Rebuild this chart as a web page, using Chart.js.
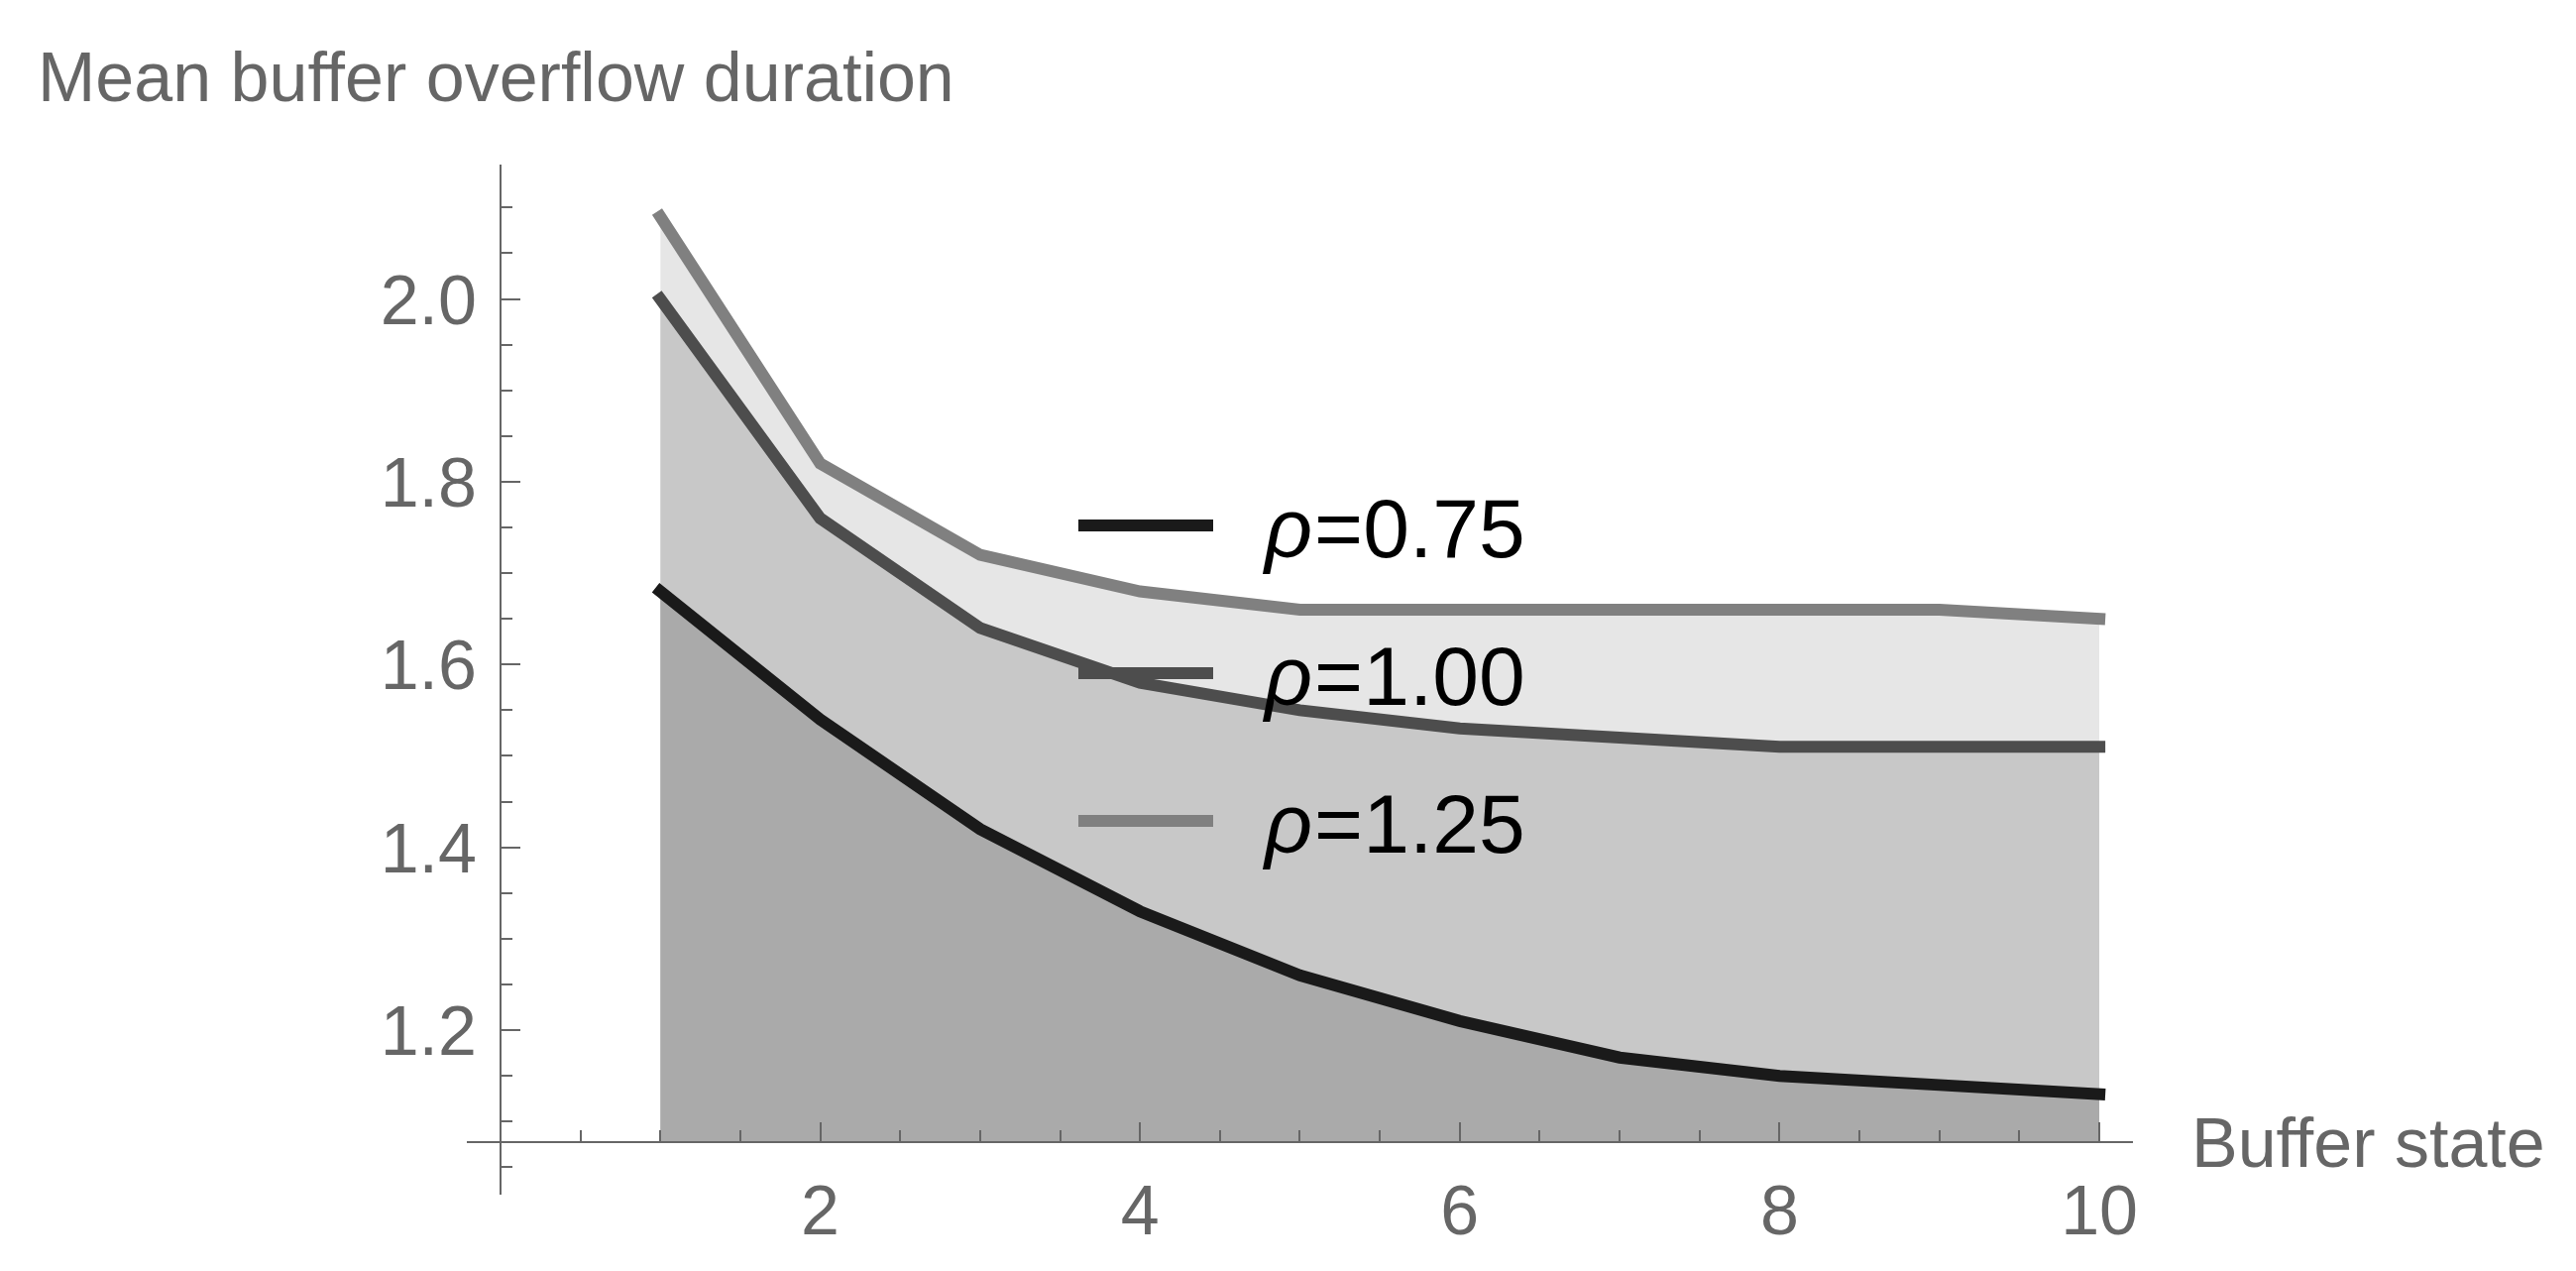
<!DOCTYPE html>
<html>
<head>
<meta charset="utf-8">
<title>Mean buffer overflow duration</title>
<script src="https://cdn.jsdelivr.net/npm/chart.js@4.4.1/dist/chart.umd.min.js"></script>
<style>
  html, body { margin: 0; padding: 0; background: #fff; overflow: hidden; }
  #wrap { width: 2599px; height: 1282px; }
</style>
</head>
<body>
<div id="wrap"><canvas id="chart" width="2599" height="1282"></canvas></div>
<script>
// Data
const bufferStates = [1, 2, 3, 4, 5, 6, 7, 8, 9, 10];
const rho075 = [1.68, 1.54, 1.42, 1.33, 1.26, 1.21, 1.17, 1.15, 1.14, 1.13];
const rho100 = [2.00, 1.76, 1.64, 1.58, 1.55, 1.53, 1.52, 1.51, 1.51, 1.51];
const rho125 = [2.09, 1.82, 1.72, 1.68, 1.66, 1.66, 1.66, 1.66, 1.66, 1.65];
const seriesLabels = ['0.75', '1.00', '1.25'];

// Axis ticks
const xMajorTicks = [2, 4, 6, 8, 10];
const xTickLabels = ['2', '4', '6', '8', '10'];
const xMinorTicks = [0.5, 1, 1.5, 2.5, 3, 3.5, 4.5, 5, 5.5, 6.5, 7, 7.5, 8.5, 9, 9.5];
const yMajorTicks = [1.2, 1.4, 1.6, 1.8, 2.0];
const yTickLabels = ['1.2', '1.4', '1.6', '1.8', '2.0'];
const yMinorTicks = [1.05, 1.1, 1.15, 1.25, 1.3, 1.35, 1.45, 1.5, 1.55, 1.65, 1.7, 1.75, 1.85, 1.9, 1.95, 2.05, 2.1];

const xTitle = 'Buffer state';
const yTitle = 'Mean buffer overflow duration';

// where the axes cross (data units)
const AXIS_X = 0;
const AXIS_Y = 1.077;

const FONT = '"Liberation Sans", Arial, sans-serif';
const LABEL_COLOR = '#666666';
const AXIS_COLOR = '#666666';
const lineColors = ['#1a1a1a', '#4d4d4d', '#808080'];
const fillColors = ['#aaaaaa', '#c8c8c8', '#e6e6e6'];

function makeSeries(values, idx) {
  return {
    label: 'ρ=' + seriesLabels[idx],
    data: values.map((v, i) => ({ x: bufferStates[i], y: v })),
    borderColor: lineColors[idx],
    backgroundColor: fillColors[idx],
    borderWidth: 12,
    borderCapStyle: 'square',
    borderJoinStyle: 'miter',
    pointRadius: 0,
    pointHoverRadius: 0,
    tension: 0,
    fill: { value: AXIS_Y }
  };
}

// Mathematica style axes: crossing at (0, AXIS_Y), ticks pointing inward
const axesPlugin = {
  id: 'crossedAxes',
  afterDatasetsDraw(chart) {
    const { ctx, chartArea } = chart;
    const x = chart.scales.x;
    const y = chart.scales.y;
    const ox = Math.round(x.getPixelForValue(AXIS_X));
    const oy = Math.round(y.getPixelForValue(AXIS_Y));

    ctx.save();
    ctx.strokeStyle = AXIS_COLOR;
    ctx.lineWidth = 2;
    ctx.lineCap = 'butt';
    ctx.beginPath();
    ctx.moveTo(chartArea.left, oy);
    ctx.lineTo(chartArea.right, oy);
    ctx.moveTo(ox, chartArea.top);
    ctx.lineTo(ox, chartArea.bottom);

    xMajorTicks.forEach(v => {
      const px = Math.round(x.getPixelForValue(v));
      ctx.moveTo(px, oy);
      ctx.lineTo(px, oy - 20);
    });
    xMinorTicks.forEach(v => {
      const px = Math.round(x.getPixelForValue(v));
      ctx.moveTo(px, oy);
      ctx.lineTo(px, oy - 12);
    });
    yMajorTicks.forEach(v => {
      const py = Math.round(y.getPixelForValue(v));
      ctx.moveTo(ox, py);
      ctx.lineTo(ox + 20, py);
    });
    yMinorTicks.forEach(v => {
      const py = Math.round(y.getPixelForValue(v));
      ctx.moveTo(ox, py);
      ctx.lineTo(ox + 12, py);
    });
    ctx.stroke();

    // tick labels
    ctx.fillStyle = LABEL_COLOR;
    ctx.font = '70px ' + FONT;
    ctx.textBaseline = 'alphabetic';
    ctx.textAlign = 'center';
    xMajorTicks.forEach((v, i) => {
      ctx.fillText(xTickLabels[i], x.getPixelForValue(v), oy + 93);
    });
    ctx.textAlign = 'right';
    yMajorTicks.forEach((v, i) => {
      ctx.fillText(yTickLabels[i], ox - 24, y.getPixelForValue(v) + 25);
    });

    // axis titles
    ctx.textAlign = 'left';
    ctx.fillText(xTitle, chartArea.right + 59, oy + 25);
    ctx.fillText(yTitle, 38, chartArea.top - 64);
    ctx.restore();
  }
};

// legend drawn inside the plot
const legendPlugin = {
  id: 'innerLegend',
  afterDraw(chart) {
    const { ctx } = chart;
    const left = 1088;
    const swatchLen = 136;
    const top = 530;
    const gap = 149;
    ctx.save();
    chart.data.datasets.forEach((ds, i) => {
      const cy = top + i * gap;
      ctx.fillStyle = ds.borderColor;
      ctx.fillRect(left, cy - 6, swatchLen, 12);

      const tx = left + 188;
      const base = cy + 32;
      ctx.fillStyle = '#000';
      ctx.textAlign = 'left';
      ctx.textBaseline = 'alphabetic';
      ctx.font = 'italic 84px ' + FONT;
      ctx.fillText('ρ', tx, base);
      const w = ctx.measureText('ρ').width;
      ctx.font = '84px ' + FONT;
      ctx.fillText('=' + seriesLabels[i], tx + w + 2, base);
    });
    ctx.restore();
  }
};

const chart = new Chart(document.getElementById('chart'), {
  type: 'line',
  data: {
    datasets: [
      makeSeries(rho075, 0),
      makeSeries(rho100, 1),
      makeSeries(rho125, 2)
    ]
  },
  options: {
    responsive: false,
    animation: false,
    devicePixelRatio: 1,
    layout: {
      padding: { left: 471, right: 447, top: 166, bottom: 77 }
    },
    plugins: {
      legend: { display: false },
      tooltip: { enabled: false },
      title: { display: false }
    },
    scales: {
      x: {
        type: 'linear',
        min: -0.21,
        max: 10.21,
        display: false
      },
      y: {
        type: 'linear',
        min: 1.02,
        max: 2.147,
        display: false
      }
    }
  },
  plugins: [axesPlugin, legendPlugin]
});
</script>
</body>
</html>
